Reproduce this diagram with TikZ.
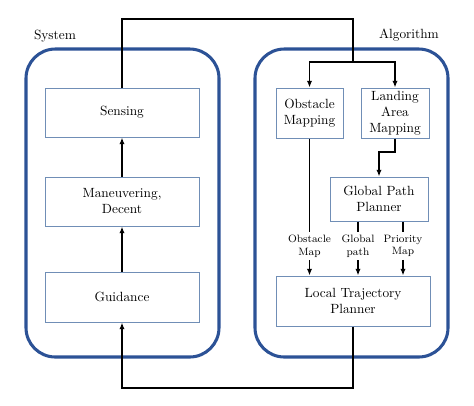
\documentclass[tikz,border=0pt]{standalone}
\usetikzlibrary{arrows.meta,calc}
\definecolor{contblue}{RGB}{44,82,150}
\definecolor{boxblue}{RGB}{112,142,182}
\begin{document}
\begin{tikzpicture}[x=0.75pt,y=-0.75pt,
  box/.style={draw=boxblue,line width=0.75pt,fill=white,align=center,inner sep=0pt},
  cont/.style={draw=contblue,line width=2.3pt,rounded corners=22pt},
  conn/.style={line width=1.4pt},
  arr/.style={conn,-{Latex[length=5pt,width=4pt]}},
  lbl/.style={font=\footnotesize,align=center,inner sep=2pt}]
\useasboundingbox (0,0) rectangle (474,405);
% containers
\draw[cont] (26,49) rectangle (219,357);
\draw[cont] (255,49) rectangle (448,357);
\node (systxt) at (55,36) {System};
\node (algtxt) at (409,35) {Algorithm};
% system boxes
\node[box,minimum width=115.5pt,minimum height=36.75pt] (sens) at (122,112.5) {Sensing};
\node[box,minimum width=115.5pt,minimum height=36.75pt] (man) at (122,201.5) {Maneuvering,\\Decent};
\node[box,minimum width=115.5pt,minimum height=37.5pt] (guid) at (122,297) {Guidance};
% algorithm boxes
\node[box,minimum width=50.25pt,minimum height=37.5pt] (obs) at (309.5,113) {Obstacle\\Mapping};
\node[box,minimum width=51pt,minimum height=37.5pt] (land) at (395,113) {Landing\\Area\\Mapping};
\node[box,minimum width=73.5pt,minimum height=33pt] (glob) at (379,199) {Global Path\\Planner};
\node[box,minimum width=115.5pt,minimum height=37.5pt] (loc) at (353,301) {Local Trajectory\\Planner};
% labels
\node[lbl] (obslbl) at (309.5,246) {Obstacle\\Map};
\node[lbl] (gpl) at (358,246) {Global\\path};
\node[lbl] (prl) at (403,246) {Priority\\Map};
% connectors
\coordinate (jn) at (353,62);
\draw[conn] (sens.north) -- (122,19) -- (353,19) -- (jn);
\draw[arr] (jn) -- (309.5,62) -- (obs.north);
\draw[arr] (jn) -- (395,62) -- (land.north);
\draw[arr] (land.south) -- (395,152) -- (379,152) -- (glob.north);
\draw[conn] (obs.south) -- (obslbl.north);
\draw[arr] (obslbl.south) -- (obslbl.south |- loc.north);
\draw[conn] (gpl.north |- glob.south) -- (gpl.north);
\draw[arr] (gpl.south) -- (gpl.south |- loc.north);
\draw[conn] (prl.north |- glob.south) -- (prl.north);
\draw[arr] (prl.south) -- (prl.south |- loc.north);
\draw[arr] (loc.south) -- (353,388) -- (122,388) -- (guid.south);
\draw[arr] (guid.north) -- (man.south);
\draw[arr] (man.north) -- (sens.south);
\end{tikzpicture}
\end{document}
